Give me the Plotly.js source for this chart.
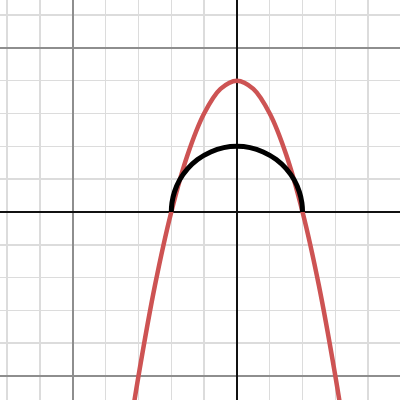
<!DOCTYPE html>
<html>
<head>
<meta charset="utf-8">
<script src="https://cdn.plot.ly/plotly-3.0.1.min.js"></script>
<style>
  html, body { margin: 0; padding: 0; background: #fff; }
  #plot { width: 400px; height: 400px; }
</style>
</head>
<body>
<div id="plot"></div>
<script>
// red curve, points
var redX = [-3.2, -3, -2.5, -2, -1.5, -1, -0.5, 0, 0.5, 1, 1.5, 2, 2.5, 3, 3.2];
var redY = [-6.24, -5, -2.25, 0, 1.75, 3, 3.75, 4, 3.75, 3, 1.75, 0, -2.25, -5, -6.24];

// black half circle
var blackX = [-2, -1.98, -1.9, -1.75, -1.5, -1.2, -0.8, -0.4, 0, 0.4, 0.8, 1.2, 1.5, 1.75, 1.9, 1.98, 2];
var blackY = [0, 0.28, 0.62, 0.97, 1.32, 1.6, 1.83, 1.96, 2, 1.96, 1.83, 1.6, 1.32, 0.97, 0.62, 0.28, 0];

var red = {
    x: redX, y: redY,
    type: 'scatter', mode: 'lines',
    line: {color: '#cd5353', width: 4.5, shape: 'spline'},
    hoverinfo: 'skip'
}
var black = {
    x: blackX, y: blackY,
    type: 'scatter', mode: 'lines',
    line: {color: '#000000', width: 5, shape: 'spline'},
    hoverinfo: 'skip'
}

function axisOpts(range) {
    return {
        range: range,
        dtick: 5, tick0: 0,
        showticklabels: false,
        ticks: '',
        showgrid: true,
        gridcolor: '#8e8e8e',
        gridwidth: 1.5,
        minor: {dtick: 1, tick0: 0, showgrid: true, gridcolor: '#dcdcdc', gridwidth: 1.5, ticks: ''},
        zeroline: true,
        zerolinecolor: '#111111',
        zerolinewidth: 2.8,
        showline: false,
        fixedrange: true
    }
}

Plotly.newPlot(document.getElementById('plot'), [red, black], {
    width: 400,
    height: 400,
    margin: {l: 0, r: 0, t: 0, b: 0},
    showlegend: false,
    paper_bgcolor: '#ffffff',
    plot_bgcolor: '#ffffff',
    xaxis: axisOpts([-7.22, 4.97]),
    yaxis: axisOpts([-5.73, 6.46])
}, {displayModeBar: false, staticPlot: true});
</script>
</body>
</html>
